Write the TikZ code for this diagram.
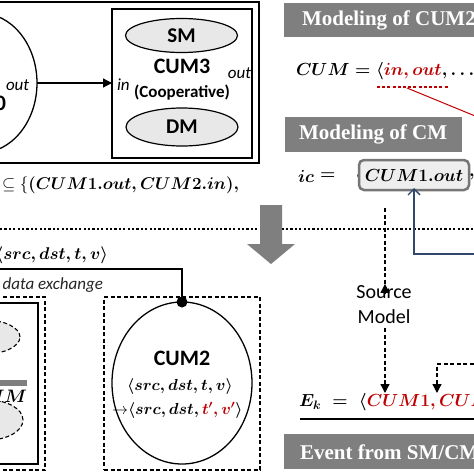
\documentclass[tikz,border=0pt]{standalone}
\usepackage{fix-cm}
\usepackage{fontspec}
\setmainfont{Liberation Serif}
\newfontfamily\calibri{Carlito}
\usetikzlibrary{shapes.geometric,arrows.meta}
\definecolor{bgray}{RGB}{127,127,127}
\definecolor{lfill}{RGB}{232,232,232}
\definecolor{cred}{RGB}{192,0,0}
\definecolor{navy}{RGB}{47,72,108}
\definecolor{boxgray}{RGB}{118,118,118}
\newcommand\fsz[2]{\fontsize{#1}{#2}\selectfont}
\begin{document}
\begin{tikzpicture}[x=1pt,y=-1pt,
  every node/.style={inner sep=0pt, outer sep=0pt},
  sansb/.style={font=\calibri\bfseries\fsz{21}{24}},
  ell/.style={draw, ellipse, fill=lfill, line width=1.2pt, font=\calibri\bfseries\fsz{21}{24}},
  dell/.style={draw, ellipse, fill=lfill, line width=1.1pt, dash pattern=on 4pt off 2.5pt},
  bantext/.style={text=white, font=\bfseries\fsz{21}{24}, anchor=west},
  mathrow/.style={font=\fsz{17.5}{20}\boldmath, anchor=west},
  dashbox/.style={draw, line width=1.1pt, dash pattern=on 4pt off 2.5pt},
  darr/.style={line width=1.3pt, dash pattern=on 4pt off 2.5pt, -{Triangle[length=9pt,width=9pt]}},
  lbl/.style={font=\calibri\itshape\fsz{17}{20}},
]
\clip (0,0) rectangle (474,474);
\fill[white] (0,0) rectangle (474,474);

% ---------- top left ----------
\draw[line width=2pt] (-10,1.5) -- (258.5,1.5) -- (258.5,163) -- (-10,163);
\node[draw, line width=1.3pt, minimum width=140pt, minimum height=149pt] (cum3box) at (182,83.5) {};
\node[ell, minimum width=112pt, minimum height=34pt] (sm) at (181.5,35.5) {SM};
\node[ell, minimum width=112pt, minimum height=38pt] (dm) at (182,127) {DM};
\node[sansb, font=\calibri\bfseries\fsz{22}{24}] (cum3) at (182,66) {CUM3};
\node[font=\calibri\bfseries\fsz{17}{20}] (coop) at (182,93) {(Cooperative)};
\node[lbl, anchor=west] (in3) at (117,85) {in};
\node[lbl, anchor=east] (out3) at (251,73) {out};

\node[draw, ellipse, line width=1.3pt, minimum width=114pt, minimum height=140pt] (cum1) at (-20,83) {};
\node[sansb, anchor=east, font=\calibri\bfseries\fsz{22}{24}] (cum1lbl) at (6,103) {0};
\node[lbl, anchor=west] (out1) at (6,85) {out};
\draw[line width=1.3pt, -{Triangle[length=9pt,width=9pt]}] (cum1.east) -- (cum1.east -| cum3box.west);

\node[font=\fsz{17}{20}\boldmath, anchor=east] (links) at (239,185)
  {$\mbox{\unboldmath$\subseteq\{$}(CUM1.out,CUM2.in),$};

% ---------- separator ----------
\draw[line width=2.2pt, dash pattern=on 2.2pt off 2.2pt] (0,229) -- (474,229);
\fill[bgray] (260,205) -- (282,205) -- (282,244) -- (295,244) -- (271,264) -- (247,244) -- (260,244) -- cycle;

% ---------- top right ----------
\fill[bgray] (284,3) rectangle (480,37);
\node[bantext] (ban1) at (302,20) {Modeling of CUM2};
\node[mathrow] (cumrow) at (296,71) {$CUM = \langle \textcolor{cred}{in, out}, \ldots$};
\coordinate (ul1) at (377,87);
\coordinate (ul2) at (449,87);
\draw[cred, line width=2.4pt, dash pattern=on 3pt off 2.2pt] (ul1) -- (ul2);
\coordinate (redA) at (407,88);
\coordinate (redB) at (480,118);
\draw[cred, line width=1pt] (redA) -- (redB);

\fill[bgray] (285,117) rectangle (462,152);
\node[bantext] (ban2) at (299,134.5) {Modeling of CM};
\node[mathrow] (ic) at (298,176) {$ic$};
\node[mathrow] (eq) at (320,176) {$=$};
\node[mathrow] (lang) at (355,176) {$\langle$};
\node[draw=boxgray, fill=gray!13, line width=2.5pt, rounded corners=5pt,
  minimum width=110pt, minimum height=30pt, font=\fsz{17.5}{20}\boldmath] (cumout) at (414,175) {$CUM1.out$};
\node[mathrow] (comma) at (469,177) {$,$};

\coordinate (navyend) at (480,254);
\draw[navy, line width=1.3pt, -{Straight Barb[length=6pt,width=12pt]}] (navyend) -| ([yshift=2pt]cumout.south);

% ---------- source model ----------
\coordinate (srctop) at (385,208);
\node[font=\calibri\fsz{20}{25}, align=center] (source) at (384,305) {Source\\Model};
\coordinate (ek1) at (385,393);
\coordinate (ek2) at (437,393);
\coordinate (dash2end) at (480,364);
\draw[darr] (srctop) -- (srctop |- source.north) -- ++(0,-2);
\draw[darr] (source.south -| srctop) ++(0,4) -- (ek1);
\draw[darr] (dash2end) -| (ek2);

% ---------- event ----------
\node[mathrow] (ek) at (299,402) {$E_k \;=\; \langle \textcolor{cred}{CUM1, CUM2}$};
\coordinate (ulA) at (300,419);
\coordinate (ulB) at (480,419);
\draw[line width=1.2pt] (ulA) -- (ulB);
\fill[bgray] (284,434) rectangle (480,469);
\node[bantext] (ban3) at (300,452) {Event from SM/CM};

% ---------- bottom left ----------
\node[font=\fsz{17}{20}\boldmath, anchor=east] (tuple) at (108,255) {$\langle src, dst, t, v\rangle$};
\node[font=\calibri\itshape\fsz{17}{20}, text=black!85, anchor=east] (dex) at (103,285) {data exchange};

\draw[dashbox] (-10,297) -- (45,297) -- (45,470) -- (-10,470);
\draw[line width=1.3pt] (-10,303) -- (38,303) -- (38,464) -- (-10,464);
\node[dell, minimum width=70pt, minimum height=34pt] (e1) at (-15,337) {};
\node[dell, minimum width=70pt, minimum height=40pt] (e2) at (-12,420) {};
\fill[bgray] (-5,380) rectangle (27,386);
\node[font=\fsz{18}{20}\boldmath, anchor=east] (cim) at (27,396) {$CIM$};

\node[dashbox, minimum width=156pt, minimum height=173pt] (cum2box) at (182,383.5) {};
\node[draw, ellipse, line width=1.3pt, minimum width=140pt, minimum height=162pt] (cum2) at (182,383) {};
\node[sansb, font=\calibri\bfseries\fsz{22}{24}] (cum2lbl) at (182,358) {CUM2};
\node[font=\fsz{16}{20}\boldmath] (t1) at (180,386) {$\langle src, dst, t, v\rangle$};
\node[font=\fsz{16}{20}\boldmath, anchor=west] (t2) at (112,410)
  {$\mbox{\unboldmath$\to$}\langle src, dst, \textcolor{cred}{t', v'}\rangle$};

\coordinate (dxstart) at (-10,269);
\draw[line width=1.3pt] (dxstart) -| (cum2.north);
\fill (cum2.north) circle (5.5pt);
\end{tikzpicture}
\end{document}
